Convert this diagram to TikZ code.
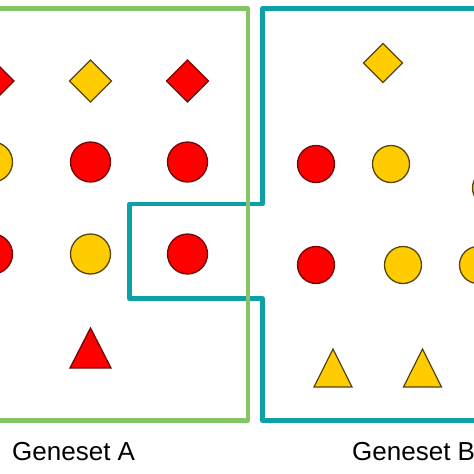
\documentclass[tikz,border=0pt]{standalone}
\usepackage{fontspec}
\setmainfont{Liberation Sans}
\usetikzlibrary{shapes.geometric}
\definecolor{gA}{RGB}{134,197,102}
\definecolor{tB}{RGB}{14,160,168}
\definecolor{redf}{RGB}{255,0,0}
\definecolor{redo}{RGB}{110,10,10}
\definecolor{yelf}{RGB}{255,204,0}
\definecolor{yelo}{RGB}{85,70,20}
\begin{document}
\begin{tikzpicture}[x=1pt,y=-1pt,
  shp/.style={inner sep=0pt, outer sep=0pt, line width=1.3pt},
  redc/.style={shp, circle, fill=redf, draw=redo, minimum size=#1},
  redc/.default=40pt,
  yelc/.style={shp, circle, fill=yelf, draw=yelo, minimum size=#1},
  yelc/.default=40pt,
  redd/.style={shp, diamond, aspect=1, fill=redf, draw=redo, minimum size=#1},
  redd/.default=40pt,
  yeld/.style={shp, diamond, aspect=1, fill=yelf, draw=yelo, minimum size=#1},
  yeld/.default=40pt,
  redtri/.style={fill=redf, draw=redo, line width=1.3pt, line join=miter},
  yeltri/.style={fill=yelf, draw=yelo, line width=1.3pt, line join=miter},
  frameA/.style={draw=gA, line width=4.3pt, line join=round},
  frameB/.style={draw=tB, line width=4.5pt, line join=round},
  lbl/.style={anchor=base west, inner sep=0pt, font=\fontsize{26}{31}\selectfont}
]
\useasboundingbox (0,0) rectangle (474,474);
\clip (0,0) rectangle (474,474);
\fill[white] (0,0) rectangle (474,474);

% Geneset B frame (teal)
\coordinate (bTR) at (620,8.5);
\coordinate (bTL) at (262.5,8.5);
\coordinate (bN1) at (262.5,204);
\coordinate (bN2) at (129.5,204);
\coordinate (bN3) at (129.5,298.5);
\coordinate (bN4) at (262.5,298.5);
\coordinate (bBL) at (262.5,420.5);
\coordinate (bBR) at (620,420.5);
\draw[frameB] (bTR) -- (bTL) -- (bN1) -- (bN2) -- (bN3) -- (bN4) -- (bBL) -- (bBR);

% Geneset A frame (green)
\coordinate (aTL) at (-30,8.5);
\coordinate (aTR) at (248,8.5);
\coordinate (aBR) at (248,420.5);
\coordinate (aBL) at (-30,420.5);
\draw[frameA] (aTL) -- (aTR) -- (aBR) -- (aBL);

% Geneset A shapes
\node[redd=42pt] (a11) at (-7,81) {};
\node[yeld=42pt] (a12) at (90.5,81) {};
\node[redd=42pt] (a13) at (187.5,81) {};
\node[yelc=40pt] (a21) at (-7.5,162) {};
\node[redc=40pt] (a22) at (90.5,162) {};
\node[redc=40pt] (a23) at (187.5,162) {};
\node[redc=40pt] (a31) at (-7.5,254) {};
\node[yelc=40pt] (a32) at (90.5,254) {};
\node[redc=40pt] (a33) at (187.5,254) {};
\coordinate (a42) at (90.5,348);
\draw[redtri] (a42) ++(0,-20) -- ++(20.5,40) -- ++(-41,0) -- cycle;

% Geneset B shapes
\node[yeld=39pt] (b11) at (383,63) {};
\node[redc=37pt] (b21) at (316,164) {};
\node[yelc=37pt] (b22) at (391,164) {};
\node[yelc=37pt] (b23) at (491,188) {};
\node[redc=37pt] (b31) at (316,265) {};
\node[yelc=37pt] (b32) at (403,265) {};
\node[yelc=37pt] (b33) at (478,265) {};
\coordinate (b41) at (333,368);
\draw[yeltri] (b41) ++(0,-19) -- ++(19,38) -- ++(-38,0) -- cycle;
\coordinate (b42) at (422.5,368);
\draw[yeltri] (b42) ++(0,-19) -- ++(19,38) -- ++(-38,0) -- cycle;

% Labels
\node[lbl] (labA) at (12,460) {Geneset A};
\node[lbl] (labB) at (352,460) {Geneset B};
\end{tikzpicture}
\end{document}
